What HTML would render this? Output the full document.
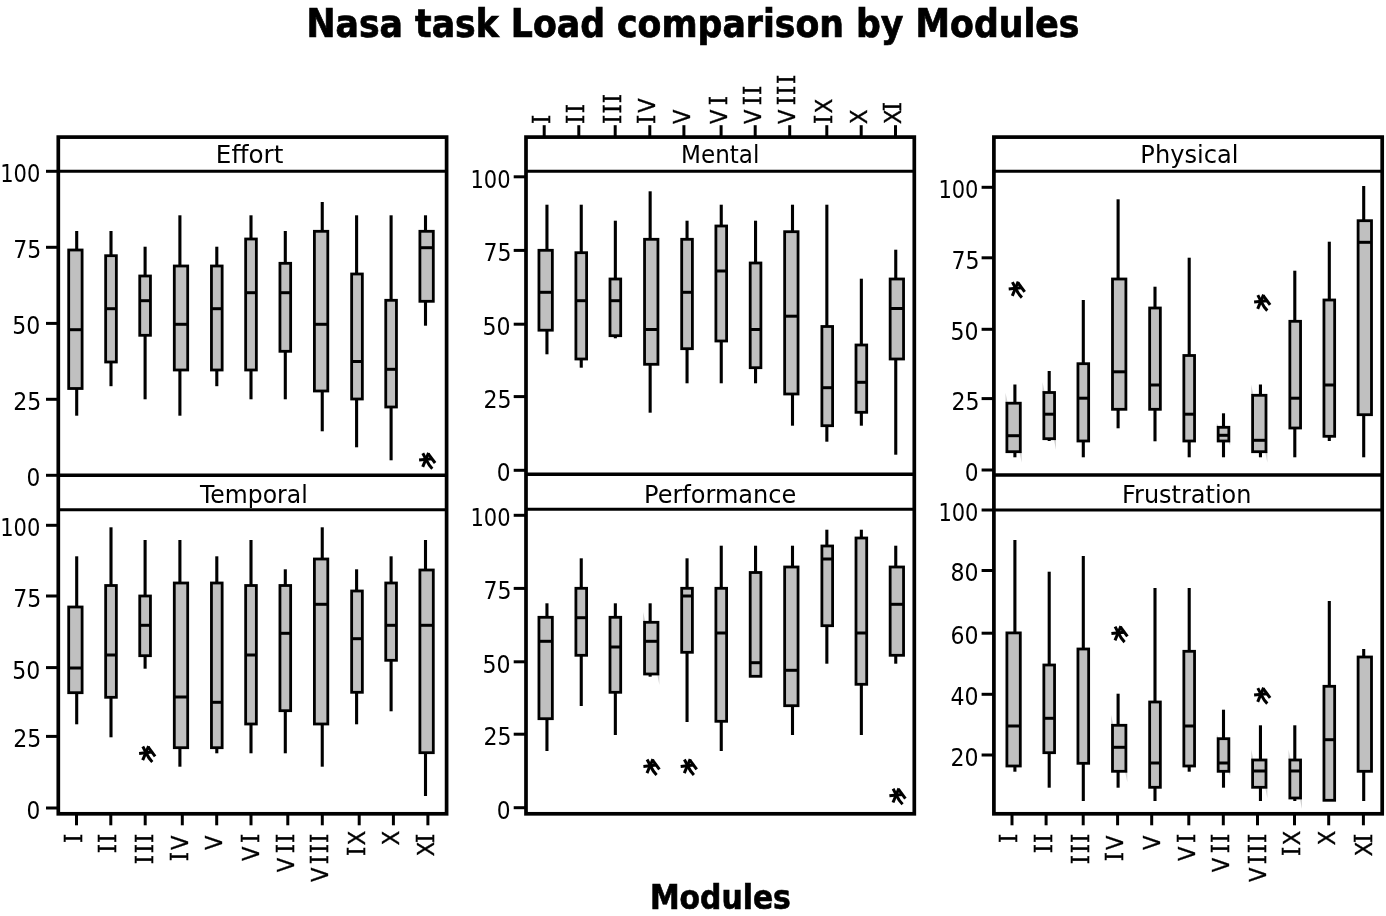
<!DOCTYPE html>
<html lang="en">
<head>
<meta charset="utf-8">
<title>Nasa task Load comparison by Modules</title>
<style>
html,body{margin:0;padding:0;background:#fff;}
body{width:1386px;height:916px;overflow:hidden;}
svg{display:block;}
svg line, svg rect, svg path{stroke:#000;shape-rendering:geometricPrecision;}
text{fill:#000;}
.ttl{font-family:"DejaVu Sans Condensed","DejaVu Sans","Liberation Sans",sans-serif;font-weight:bold;font-size:39px;stroke:#000;stroke-width:0.7px;}
.mod{font-family:"DejaVu Sans Condensed","DejaVu Sans","Liberation Sans",sans-serif;font-weight:bold;font-size:33px;stroke:#000;stroke-width:0.6px;}
.pt{font-family:"DejaVu Sans","Liberation Sans",sans-serif;font-size:24.5px;}
.yl{font-family:"DejaVu Sans Condensed","DejaVu Sans","Liberation Sans",sans-serif;font-size:25.4px;}
.xl{font-size:23.5px;}
.ri{font-family:"DejaVu Serif","Liberation Serif",serif;stroke:#000;stroke-width:0.6px;}
.rv{font-family:"DejaVu Sans Condensed","DejaVu Sans","Liberation Sans",sans-serif;stroke:#000;stroke-width:0.35px;}
</style>
</head>
<body>
<svg width="1386" height="916" viewBox="0 0 1386 916">
<rect x="0" y="0" width="1386" height="916" fill="#fff" stroke="none" style="stroke:none"/>
<text class="ttl" x="693" y="36.8" text-anchor="middle" textLength="773" lengthAdjust="spacingAndGlyphs">Nasa task Load comparison by Modules</text>
<rect x="58.3" y="137.1" width="388.30" height="676.70" fill="none" stroke-width="3.7"/>
<rect x="526.0" y="137.1" width="388.30" height="676.70" fill="none" stroke-width="3.7"/>
<rect x="993.9" y="137.1" width="388.30" height="676.70" fill="none" stroke-width="3.7"/>
<line x1="58.30" y1="171.30" x2="446.60" y2="171.30" stroke-width="3.0"/>
<text class="pt" x="215.89" y="162.6" textLength="67.42" lengthAdjust="spacingAndGlyphs">Effort</text>
<line x1="46.00" y1="171.30" x2="58.30" y2="171.30" stroke-width="3.0"/>
<text class="yl" x="0.18" y="182.2" textLength="40.10" lengthAdjust="spacingAndGlyphs">100</text>
<line x1="46.00" y1="247.30" x2="58.30" y2="247.30" stroke-width="3.0"/>
<text class="yl" x="13.23" y="258.2" textLength="28.04" lengthAdjust="spacingAndGlyphs">75</text>
<line x1="46.00" y1="323.40" x2="58.30" y2="323.40" stroke-width="3.0"/>
<text class="yl" x="12.27" y="334.3" textLength="28.04" lengthAdjust="spacingAndGlyphs">50</text>
<line x1="46.00" y1="399.30" x2="58.30" y2="399.30" stroke-width="3.0"/>
<text class="yl" x="13.23" y="410.2" textLength="28.04" lengthAdjust="spacingAndGlyphs">25</text>
<line x1="46.00" y1="475.30" x2="58.30" y2="475.30" stroke-width="3.0"/>
<text class="yl" x="26.50" y="486.2" textLength="13.80" lengthAdjust="spacingAndGlyphs">0</text>
<line x1="76.70" y1="231.00" x2="76.70" y2="250.00" stroke-width="3.1"/>
<line x1="76.70" y1="388.50" x2="76.70" y2="415.70" stroke-width="3.1"/>
<rect x="68.70" y="250.00" width="13.40" height="138.50" fill="#c0c0c0" stroke-width="2.8"/>
<line x1="68.70" y1="329.70" x2="82.10" y2="329.70" stroke-width="3.0"/>
<line x1="111.00" y1="231.00" x2="111.00" y2="255.70" stroke-width="3.1"/>
<line x1="111.00" y1="362.00" x2="111.00" y2="386.20" stroke-width="3.1"/>
<rect x="105.65" y="255.70" width="10.70" height="106.30" fill="#c0c0c0" stroke-width="2.8"/>
<line x1="105.65" y1="308.70" x2="116.35" y2="308.70" stroke-width="3.0"/>
<line x1="145.10" y1="246.70" x2="145.10" y2="276.00" stroke-width="3.1"/>
<line x1="145.10" y1="335.30" x2="145.10" y2="399.30" stroke-width="3.1"/>
<rect x="139.75" y="276.00" width="10.70" height="59.30" fill="#c0c0c0" stroke-width="2.8"/>
<line x1="139.75" y1="300.70" x2="150.45" y2="300.70" stroke-width="3.0"/>
<line x1="179.90" y1="215.30" x2="179.90" y2="266.00" stroke-width="3.1"/>
<line x1="179.90" y1="370.00" x2="179.90" y2="415.70" stroke-width="3.1"/>
<rect x="174.30" y="266.00" width="13.40" height="104.00" fill="#c0c0c0" stroke-width="2.8"/>
<line x1="174.30" y1="324.30" x2="187.70" y2="324.30" stroke-width="3.0"/>
<line x1="216.80" y1="246.70" x2="216.80" y2="266.00" stroke-width="3.1"/>
<line x1="216.80" y1="370.00" x2="216.80" y2="386.20" stroke-width="3.1"/>
<rect x="211.45" y="266.00" width="10.70" height="104.00" fill="#c0c0c0" stroke-width="2.8"/>
<line x1="211.45" y1="308.70" x2="222.15" y2="308.70" stroke-width="3.0"/>
<line x1="251.00" y1="215.30" x2="251.00" y2="239.00" stroke-width="3.1"/>
<line x1="251.00" y1="370.00" x2="251.00" y2="399.30" stroke-width="3.1"/>
<rect x="245.65" y="239.00" width="10.70" height="131.00" fill="#c0c0c0" stroke-width="2.8"/>
<line x1="245.65" y1="292.70" x2="256.35" y2="292.70" stroke-width="3.0"/>
<line x1="285.30" y1="231.00" x2="285.30" y2="263.30" stroke-width="3.1"/>
<line x1="285.30" y1="351.30" x2="285.30" y2="399.30" stroke-width="3.1"/>
<rect x="279.95" y="263.30" width="10.70" height="88.00" fill="#c0c0c0" stroke-width="2.8"/>
<line x1="279.95" y1="292.70" x2="290.65" y2="292.70" stroke-width="3.0"/>
<line x1="322.25" y1="202.00" x2="322.25" y2="231.30" stroke-width="3.1"/>
<line x1="322.25" y1="391.00" x2="322.25" y2="431.30" stroke-width="3.1"/>
<rect x="314.40" y="231.30" width="13.40" height="159.70" fill="#c0c0c0" stroke-width="2.8"/>
<line x1="314.40" y1="324.30" x2="327.80" y2="324.30" stroke-width="3.0"/>
<line x1="356.60" y1="215.30" x2="356.60" y2="274.00" stroke-width="3.1"/>
<line x1="356.60" y1="399.00" x2="356.60" y2="447.30" stroke-width="3.1"/>
<rect x="351.65" y="274.00" width="10.70" height="125.00" fill="#c0c0c0" stroke-width="2.8"/>
<line x1="351.65" y1="361.50" x2="362.35" y2="361.50" stroke-width="3.0"/>
<line x1="391.10" y1="215.30" x2="391.10" y2="300.30" stroke-width="3.1"/>
<line x1="391.10" y1="407.00" x2="391.10" y2="460.30" stroke-width="3.1"/>
<rect x="385.75" y="300.30" width="10.70" height="106.70" fill="#c0c0c0" stroke-width="2.8"/>
<line x1="385.75" y1="369.30" x2="396.45" y2="369.30" stroke-width="3.0"/>
<line x1="425.50" y1="215.30" x2="425.50" y2="231.30" stroke-width="3.1"/>
<line x1="425.50" y1="301.30" x2="425.50" y2="325.70" stroke-width="3.1"/>
<rect x="419.90" y="231.30" width="13.40" height="70.00" fill="#c0c0c0" stroke-width="2.8"/>
<line x1="419.90" y1="247.70" x2="433.30" y2="247.70" stroke-width="3.0"/>
<g transform="translate(426.7,460.4)" stroke-width="3.0" fill="none" stroke-linecap="butt"><path d="M-7.6,-0.3 L5.4,-1.6"/><path d="M-3.9,-7.2 L0,0.3 Q2,4.6 5.6,8.3"/><path d="M1.9,-7.6 L-4.0,6.5"/><path d="M1.4,-6.8 L8.4,2.6"/></g>
<line x1="58.30" y1="475.30" x2="446.60" y2="475.30" stroke-width="3.5"/>
<line x1="58.30" y1="509.70" x2="446.60" y2="509.70" stroke-width="3.0"/>
<text class="pt" x="199.96" y="503.3" textLength="107.78" lengthAdjust="spacingAndGlyphs">Temporal</text>
<line x1="46.00" y1="525.30" x2="58.30" y2="525.30" stroke-width="3.0"/>
<text class="yl" x="0.18" y="536.2" textLength="40.10" lengthAdjust="spacingAndGlyphs">100</text>
<line x1="46.00" y1="596.00" x2="58.30" y2="596.00" stroke-width="3.0"/>
<text class="yl" x="13.23" y="606.9" textLength="28.04" lengthAdjust="spacingAndGlyphs">75</text>
<line x1="46.00" y1="667.60" x2="58.30" y2="667.60" stroke-width="3.0"/>
<text class="yl" x="12.27" y="678.5" textLength="28.04" lengthAdjust="spacingAndGlyphs">50</text>
<line x1="46.00" y1="736.40" x2="58.30" y2="736.40" stroke-width="3.0"/>
<text class="yl" x="13.23" y="747.3" textLength="28.04" lengthAdjust="spacingAndGlyphs">25</text>
<line x1="46.00" y1="808.00" x2="58.30" y2="808.00" stroke-width="3.0"/>
<text class="yl" x="26.50" y="818.9" textLength="13.80" lengthAdjust="spacingAndGlyphs">0</text>
<line x1="76.70" y1="556.30" x2="76.70" y2="607.00" stroke-width="3.1"/>
<line x1="76.70" y1="692.70" x2="76.70" y2="724.30" stroke-width="3.1"/>
<rect x="68.70" y="607.00" width="13.40" height="85.70" fill="#c0c0c0" stroke-width="2.8"/>
<line x1="68.70" y1="668.00" x2="82.10" y2="668.00" stroke-width="3.0"/>
<line x1="111.00" y1="527.30" x2="111.00" y2="585.50" stroke-width="3.1"/>
<line x1="111.00" y1="697.30" x2="111.00" y2="737.30" stroke-width="3.1"/>
<rect x="105.65" y="585.50" width="10.70" height="111.80" fill="#c0c0c0" stroke-width="2.8"/>
<line x1="105.65" y1="655.00" x2="116.35" y2="655.00" stroke-width="3.0"/>
<line x1="145.10" y1="540.00" x2="145.10" y2="596.00" stroke-width="3.1"/>
<line x1="145.10" y1="655.70" x2="145.10" y2="668.70" stroke-width="3.1"/>
<rect x="139.75" y="596.00" width="10.70" height="59.70" fill="#c0c0c0" stroke-width="2.8"/>
<line x1="139.75" y1="625.30" x2="150.45" y2="625.30" stroke-width="3.0"/>
<line x1="179.90" y1="540.00" x2="179.90" y2="583.00" stroke-width="3.1"/>
<line x1="179.90" y1="747.70" x2="179.90" y2="766.70" stroke-width="3.1"/>
<rect x="174.30" y="583.00" width="13.40" height="164.70" fill="#c0c0c0" stroke-width="2.8"/>
<line x1="174.30" y1="697.00" x2="187.70" y2="697.00" stroke-width="3.0"/>
<line x1="216.80" y1="556.30" x2="216.80" y2="583.00" stroke-width="3.1"/>
<line x1="216.80" y1="747.70" x2="216.80" y2="753.30" stroke-width="3.1"/>
<rect x="211.45" y="583.00" width="10.70" height="164.70" fill="#c0c0c0" stroke-width="2.8"/>
<line x1="211.45" y1="702.30" x2="222.15" y2="702.30" stroke-width="3.0"/>
<line x1="251.00" y1="540.00" x2="251.00" y2="585.50" stroke-width="3.1"/>
<line x1="251.00" y1="724.00" x2="251.00" y2="753.30" stroke-width="3.1"/>
<rect x="245.65" y="585.50" width="10.70" height="138.50" fill="#c0c0c0" stroke-width="2.8"/>
<line x1="245.65" y1="655.00" x2="256.35" y2="655.00" stroke-width="3.0"/>
<line x1="285.30" y1="569.30" x2="285.30" y2="585.50" stroke-width="3.1"/>
<line x1="285.30" y1="710.70" x2="285.30" y2="753.30" stroke-width="3.1"/>
<rect x="279.95" y="585.50" width="10.70" height="125.20" fill="#c0c0c0" stroke-width="2.8"/>
<line x1="279.95" y1="633.30" x2="290.65" y2="633.30" stroke-width="3.0"/>
<line x1="322.25" y1="527.30" x2="322.25" y2="559.00" stroke-width="3.1"/>
<line x1="322.25" y1="724.00" x2="322.25" y2="766.70" stroke-width="3.1"/>
<rect x="314.40" y="559.00" width="13.40" height="165.00" fill="#c0c0c0" stroke-width="2.8"/>
<line x1="314.40" y1="604.30" x2="327.80" y2="604.30" stroke-width="3.0"/>
<line x1="356.60" y1="569.30" x2="356.60" y2="591.00" stroke-width="3.1"/>
<line x1="356.60" y1="692.30" x2="356.60" y2="724.30" stroke-width="3.1"/>
<rect x="351.65" y="591.00" width="10.70" height="101.30" fill="#c0c0c0" stroke-width="2.8"/>
<line x1="351.65" y1="638.70" x2="362.35" y2="638.70" stroke-width="3.0"/>
<line x1="391.10" y1="556.30" x2="391.10" y2="583.00" stroke-width="3.1"/>
<line x1="391.10" y1="660.30" x2="391.10" y2="711.30" stroke-width="3.1"/>
<rect x="385.75" y="583.00" width="10.70" height="77.30" fill="#c0c0c0" stroke-width="2.8"/>
<line x1="385.75" y1="625.30" x2="396.45" y2="625.30" stroke-width="3.0"/>
<line x1="425.50" y1="540.00" x2="425.50" y2="570.00" stroke-width="3.1"/>
<line x1="425.50" y1="752.70" x2="425.50" y2="796.00" stroke-width="3.1"/>
<rect x="419.90" y="570.00" width="13.40" height="182.70" fill="#c0c0c0" stroke-width="2.8"/>
<line x1="419.90" y1="625.30" x2="433.30" y2="625.30" stroke-width="3.0"/>
<g transform="translate(146.7,753.7)" stroke-width="3.0" fill="none" stroke-linecap="butt"><path d="M-7.6,-0.3 L5.4,-1.6"/><path d="M-3.9,-7.2 L0,0.3 Q2,4.6 5.6,8.3"/><path d="M1.9,-7.6 L-4.0,6.5"/><path d="M1.4,-6.8 L8.4,2.6"/></g>
<line x1="526.00" y1="171.20" x2="914.30" y2="171.20" stroke-width="3.0"/>
<text class="pt" x="681.12" y="162.6" textLength="78.29" lengthAdjust="spacingAndGlyphs">Mental</text>
<line x1="513.70" y1="176.80" x2="526.00" y2="176.80" stroke-width="3.0"/>
<text class="yl" x="470.48" y="187.7" textLength="40.10" lengthAdjust="spacingAndGlyphs">100</text>
<line x1="513.70" y1="250.40" x2="526.00" y2="250.40" stroke-width="3.0"/>
<text class="yl" x="483.53" y="261.3" textLength="28.04" lengthAdjust="spacingAndGlyphs">75</text>
<line x1="513.70" y1="324.20" x2="526.00" y2="324.20" stroke-width="3.0"/>
<text class="yl" x="482.57" y="335.1" textLength="28.04" lengthAdjust="spacingAndGlyphs">50</text>
<line x1="513.70" y1="396.60" x2="526.00" y2="396.60" stroke-width="3.0"/>
<text class="yl" x="483.53" y="407.5" textLength="28.04" lengthAdjust="spacingAndGlyphs">25</text>
<line x1="513.70" y1="470.30" x2="526.00" y2="470.30" stroke-width="3.0"/>
<text class="yl" x="496.80" y="481.2" textLength="13.80" lengthAdjust="spacingAndGlyphs">0</text>
<line x1="546.95" y1="204.70" x2="546.95" y2="250.30" stroke-width="3.1"/>
<line x1="546.95" y1="330.20" x2="546.95" y2="354.30" stroke-width="3.1"/>
<rect x="538.95" y="250.30" width="13.40" height="79.90" fill="#c0c0c0" stroke-width="2.8"/>
<line x1="538.95" y1="292.30" x2="552.35" y2="292.30" stroke-width="3.0"/>
<line x1="581.25" y1="204.70" x2="581.25" y2="252.70" stroke-width="3.1"/>
<line x1="581.25" y1="359.00" x2="581.25" y2="367.70" stroke-width="3.1"/>
<rect x="575.90" y="252.70" width="10.70" height="106.30" fill="#c0c0c0" stroke-width="2.8"/>
<line x1="575.90" y1="300.70" x2="586.60" y2="300.70" stroke-width="3.0"/>
<line x1="615.35" y1="220.70" x2="615.35" y2="279.00" stroke-width="3.1"/>
<line x1="615.35" y1="335.70" x2="615.35" y2="338.30" stroke-width="3.1"/>
<rect x="610.00" y="279.00" width="10.70" height="56.70" fill="#c0c0c0" stroke-width="2.8"/>
<line x1="610.00" y1="300.70" x2="620.70" y2="300.70" stroke-width="3.0"/>
<line x1="650.15" y1="191.30" x2="650.15" y2="239.30" stroke-width="3.1"/>
<line x1="650.15" y1="364.30" x2="650.15" y2="412.70" stroke-width="3.1"/>
<rect x="644.55" y="239.30" width="13.40" height="125.00" fill="#c0c0c0" stroke-width="2.8"/>
<line x1="644.55" y1="329.50" x2="657.95" y2="329.50" stroke-width="3.0"/>
<line x1="687.05" y1="220.70" x2="687.05" y2="239.30" stroke-width="3.1"/>
<line x1="687.05" y1="348.70" x2="687.05" y2="383.30" stroke-width="3.1"/>
<rect x="681.70" y="239.30" width="10.70" height="109.40" fill="#c0c0c0" stroke-width="2.8"/>
<line x1="681.70" y1="292.30" x2="692.40" y2="292.30" stroke-width="3.0"/>
<line x1="721.25" y1="204.70" x2="721.25" y2="226.00" stroke-width="3.1"/>
<line x1="721.25" y1="341.00" x2="721.25" y2="383.30" stroke-width="3.1"/>
<rect x="715.90" y="226.00" width="10.70" height="115.00" fill="#c0c0c0" stroke-width="2.8"/>
<line x1="715.90" y1="271.00" x2="726.60" y2="271.00" stroke-width="3.0"/>
<line x1="755.55" y1="220.70" x2="755.55" y2="263.00" stroke-width="3.1"/>
<line x1="755.55" y1="367.70" x2="755.55" y2="383.30" stroke-width="3.1"/>
<rect x="750.20" y="263.00" width="10.70" height="104.70" fill="#c0c0c0" stroke-width="2.8"/>
<line x1="750.20" y1="329.50" x2="760.90" y2="329.50" stroke-width="3.0"/>
<line x1="792.50" y1="204.70" x2="792.50" y2="231.70" stroke-width="3.1"/>
<line x1="792.50" y1="394.00" x2="792.50" y2="425.70" stroke-width="3.1"/>
<rect x="784.65" y="231.70" width="13.40" height="162.30" fill="#c0c0c0" stroke-width="2.8"/>
<line x1="784.65" y1="316.20" x2="798.05" y2="316.20" stroke-width="3.0"/>
<line x1="826.85" y1="204.70" x2="826.85" y2="326.50" stroke-width="3.1"/>
<line x1="826.85" y1="425.70" x2="826.85" y2="441.70" stroke-width="3.1"/>
<rect x="821.90" y="326.50" width="10.70" height="99.20" fill="#c0c0c0" stroke-width="2.8"/>
<line x1="821.90" y1="387.70" x2="832.60" y2="387.70" stroke-width="3.0"/>
<line x1="861.35" y1="278.70" x2="861.35" y2="345.00" stroke-width="3.1"/>
<line x1="861.35" y1="412.30" x2="861.35" y2="425.70" stroke-width="3.1"/>
<rect x="856.00" y="345.00" width="10.70" height="67.30" fill="#c0c0c0" stroke-width="2.8"/>
<line x1="856.00" y1="382.30" x2="866.70" y2="382.30" stroke-width="3.0"/>
<line x1="895.75" y1="249.70" x2="895.75" y2="279.00" stroke-width="3.1"/>
<line x1="895.75" y1="359.00" x2="895.75" y2="454.70" stroke-width="3.1"/>
<rect x="890.15" y="279.00" width="13.40" height="80.00" fill="#c0c0c0" stroke-width="2.8"/>
<line x1="890.15" y1="308.50" x2="903.55" y2="308.50" stroke-width="3.0"/>
<line x1="526.00" y1="474.30" x2="914.30" y2="474.30" stroke-width="3.5"/>
<line x1="526.00" y1="509.30" x2="914.30" y2="509.30" stroke-width="3.0"/>
<text class="pt" x="644.04" y="503.3" textLength="152.31" lengthAdjust="spacingAndGlyphs">Performance</text>
<line x1="513.70" y1="515.30" x2="526.00" y2="515.30" stroke-width="3.0"/>
<text class="yl" x="470.48" y="526.2" textLength="40.10" lengthAdjust="spacingAndGlyphs">100</text>
<line x1="513.70" y1="588.40" x2="526.00" y2="588.40" stroke-width="3.0"/>
<text class="yl" x="483.53" y="599.3" textLength="28.04" lengthAdjust="spacingAndGlyphs">75</text>
<line x1="513.70" y1="661.80" x2="526.00" y2="661.80" stroke-width="3.0"/>
<text class="yl" x="482.57" y="672.7" textLength="28.04" lengthAdjust="spacingAndGlyphs">50</text>
<line x1="513.70" y1="734.20" x2="526.00" y2="734.20" stroke-width="3.0"/>
<text class="yl" x="483.53" y="745.1" textLength="28.04" lengthAdjust="spacingAndGlyphs">25</text>
<line x1="513.70" y1="807.70" x2="526.00" y2="807.70" stroke-width="3.0"/>
<text class="yl" x="496.80" y="818.6" textLength="13.80" lengthAdjust="spacingAndGlyphs">0</text>
<line x1="546.95" y1="603.30" x2="546.95" y2="617.30" stroke-width="3.1"/>
<line x1="546.95" y1="718.70" x2="546.95" y2="751.00" stroke-width="3.1"/>
<rect x="538.95" y="617.30" width="13.40" height="101.40" fill="#c0c0c0" stroke-width="2.8"/>
<line x1="538.95" y1="641.30" x2="552.35" y2="641.30" stroke-width="3.0"/>
<line x1="581.25" y1="558.30" x2="581.25" y2="588.30" stroke-width="3.1"/>
<line x1="581.25" y1="655.30" x2="581.25" y2="706.00" stroke-width="3.1"/>
<rect x="575.90" y="588.30" width="10.70" height="67.00" fill="#c0c0c0" stroke-width="2.8"/>
<line x1="575.90" y1="617.70" x2="586.60" y2="617.70" stroke-width="3.0"/>
<line x1="615.35" y1="603.30" x2="615.35" y2="617.30" stroke-width="3.1"/>
<line x1="615.35" y1="692.30" x2="615.35" y2="735.00" stroke-width="3.1"/>
<rect x="610.00" y="617.30" width="10.70" height="75.00" fill="#c0c0c0" stroke-width="2.8"/>
<line x1="610.00" y1="647.00" x2="620.70" y2="647.00" stroke-width="3.0"/>
<polygon points="643.1,611.8 643.1,622.3 645.4,622.3" fill="#d2d2d2" style="stroke:none"/>
<polygon points="659.4,685.0 659.4,674.0 657.1,674.0" fill="#d2d2d2" style="stroke:none"/>
<line x1="650.15" y1="603.30" x2="650.15" y2="622.30" stroke-width="3.1"/>
<line x1="650.15" y1="674.00" x2="650.15" y2="676.70" stroke-width="3.1"/>
<rect x="644.55" y="622.30" width="13.40" height="51.70" fill="#c0c0c0" stroke-width="2.8"/>
<line x1="644.55" y1="641.30" x2="657.95" y2="641.30" stroke-width="3.0"/>
<line x1="687.05" y1="558.30" x2="687.05" y2="588.30" stroke-width="3.1"/>
<line x1="687.05" y1="652.30" x2="687.05" y2="722.00" stroke-width="3.1"/>
<rect x="681.70" y="588.30" width="10.70" height="64.00" fill="#c0c0c0" stroke-width="2.8"/>
<line x1="681.70" y1="596.00" x2="692.40" y2="596.00" stroke-width="3.0"/>
<line x1="721.25" y1="545.70" x2="721.25" y2="588.30" stroke-width="3.1"/>
<line x1="721.25" y1="721.30" x2="721.25" y2="751.00" stroke-width="3.1"/>
<rect x="715.90" y="588.30" width="10.70" height="133.00" fill="#c0c0c0" stroke-width="2.8"/>
<line x1="715.90" y1="633.00" x2="726.60" y2="633.00" stroke-width="3.0"/>
<line x1="755.55" y1="545.70" x2="755.55" y2="572.50" stroke-width="3.1"/>
<rect x="750.20" y="572.50" width="10.70" height="103.80" fill="#c0c0c0" stroke-width="2.8"/>
<line x1="750.20" y1="662.70" x2="760.90" y2="662.70" stroke-width="3.0"/>
<line x1="792.50" y1="545.70" x2="792.50" y2="567.00" stroke-width="3.1"/>
<line x1="792.50" y1="705.70" x2="792.50" y2="735.00" stroke-width="3.1"/>
<rect x="784.65" y="567.00" width="13.40" height="138.70" fill="#c0c0c0" stroke-width="2.8"/>
<line x1="784.65" y1="670.30" x2="798.05" y2="670.30" stroke-width="3.0"/>
<line x1="826.85" y1="529.70" x2="826.85" y2="546.00" stroke-width="3.1"/>
<line x1="826.85" y1="625.70" x2="826.85" y2="663.70" stroke-width="3.1"/>
<rect x="821.90" y="546.00" width="10.70" height="79.70" fill="#c0c0c0" stroke-width="2.8"/>
<line x1="821.90" y1="559.00" x2="832.60" y2="559.00" stroke-width="3.0"/>
<line x1="861.35" y1="529.70" x2="861.35" y2="538.00" stroke-width="3.1"/>
<line x1="861.35" y1="684.30" x2="861.35" y2="735.00" stroke-width="3.1"/>
<rect x="856.00" y="538.00" width="10.70" height="146.30" fill="#c0c0c0" stroke-width="2.8"/>
<line x1="856.00" y1="633.00" x2="866.70" y2="633.00" stroke-width="3.0"/>
<line x1="895.75" y1="545.70" x2="895.75" y2="567.00" stroke-width="3.1"/>
<line x1="895.75" y1="655.30" x2="895.75" y2="663.70" stroke-width="3.1"/>
<rect x="890.15" y="567.00" width="13.40" height="88.30" fill="#c0c0c0" stroke-width="2.8"/>
<line x1="890.15" y1="604.30" x2="903.55" y2="604.30" stroke-width="3.0"/>
<g transform="translate(651.0,766.7)" stroke-width="3.0" fill="none" stroke-linecap="butt"><path d="M-7.6,-0.3 L5.4,-1.6"/><path d="M-3.9,-7.2 L0,0.3 Q2,4.6 5.6,8.3"/><path d="M1.9,-7.6 L-4.0,6.5"/><path d="M1.4,-6.8 L8.4,2.6"/></g>
<g transform="translate(688.3,766.7)" stroke-width="3.0" fill="none" stroke-linecap="butt"><path d="M-7.6,-0.3 L5.4,-1.6"/><path d="M-3.9,-7.2 L0,0.3 Q2,4.6 5.6,8.3"/><path d="M1.9,-7.6 L-4.0,6.5"/><path d="M1.4,-6.8 L8.4,2.6"/></g>
<g transform="translate(897.0,796.0)" stroke-width="3.0" fill="none" stroke-linecap="butt"><path d="M-7.6,-0.3 L5.4,-1.6"/><path d="M-3.9,-7.2 L0,0.3 Q2,4.6 5.6,8.3"/><path d="M1.9,-7.6 L-4.0,6.5"/><path d="M1.4,-6.8 L8.4,2.6"/></g>
<line x1="993.90" y1="171.30" x2="1382.20" y2="171.30" stroke-width="3.0"/>
<text class="pt" x="1140.33" y="162.6" textLength="98.14" lengthAdjust="spacingAndGlyphs">Physical</text>
<line x1="981.60" y1="187.30" x2="993.90" y2="187.30" stroke-width="3.0"/>
<text class="yl" x="938.38" y="198.2" textLength="40.10" lengthAdjust="spacingAndGlyphs">100</text>
<line x1="981.60" y1="257.80" x2="993.90" y2="257.80" stroke-width="3.0"/>
<text class="yl" x="951.43" y="268.7" textLength="28.04" lengthAdjust="spacingAndGlyphs">75</text>
<line x1="981.60" y1="329.30" x2="993.90" y2="329.30" stroke-width="3.0"/>
<text class="yl" x="950.47" y="340.2" textLength="28.04" lengthAdjust="spacingAndGlyphs">50</text>
<line x1="981.60" y1="398.60" x2="993.90" y2="398.60" stroke-width="3.0"/>
<text class="yl" x="951.43" y="409.5" textLength="28.04" lengthAdjust="spacingAndGlyphs">25</text>
<line x1="981.60" y1="470.00" x2="993.90" y2="470.00" stroke-width="3.0"/>
<text class="yl" x="964.70" y="480.9" textLength="13.80" lengthAdjust="spacingAndGlyphs">0</text>
<polygon points="1005.5,392.7 1005.5,403.2 1007.8,403.2" fill="#d2d2d2" style="stroke:none"/>
<polygon points="1021.7,462.7 1021.7,451.7 1019.4,451.7" fill="#d2d2d2" style="stroke:none"/>
<line x1="1014.90" y1="384.50" x2="1014.90" y2="403.20" stroke-width="3.1"/>
<line x1="1014.90" y1="451.70" x2="1014.90" y2="457.30" stroke-width="3.1"/>
<rect x="1006.90" y="403.20" width="13.40" height="48.50" fill="#c0c0c0" stroke-width="2.8"/>
<line x1="1006.90" y1="435.70" x2="1020.30" y2="435.70" stroke-width="3.0"/>
<polygon points="1042.5,382.0 1042.5,392.5 1044.8,392.5" fill="#d2d2d2" style="stroke:none"/>
<polygon points="1056.0,449.7 1056.0,438.7 1053.7,438.7" fill="#d2d2d2" style="stroke:none"/>
<line x1="1049.20" y1="371.00" x2="1049.20" y2="392.50" stroke-width="3.1"/>
<line x1="1049.20" y1="438.70" x2="1049.20" y2="441.00" stroke-width="3.1"/>
<rect x="1043.85" y="392.50" width="10.70" height="46.20" fill="#c0c0c0" stroke-width="2.8"/>
<line x1="1043.85" y1="414.20" x2="1054.55" y2="414.20" stroke-width="3.0"/>
<line x1="1083.30" y1="300.00" x2="1083.30" y2="363.70" stroke-width="3.1"/>
<line x1="1083.30" y1="441.00" x2="1083.30" y2="457.30" stroke-width="3.1"/>
<rect x="1077.95" y="363.70" width="10.70" height="77.30" fill="#c0c0c0" stroke-width="2.8"/>
<line x1="1077.95" y1="398.20" x2="1088.65" y2="398.20" stroke-width="3.0"/>
<line x1="1118.10" y1="199.30" x2="1118.10" y2="279.00" stroke-width="3.1"/>
<line x1="1118.10" y1="409.30" x2="1118.10" y2="428.30" stroke-width="3.1"/>
<rect x="1112.50" y="279.00" width="13.40" height="130.30" fill="#c0c0c0" stroke-width="2.8"/>
<line x1="1112.50" y1="371.80" x2="1125.90" y2="371.80" stroke-width="3.0"/>
<line x1="1155.00" y1="286.70" x2="1155.00" y2="308.00" stroke-width="3.1"/>
<line x1="1155.00" y1="409.30" x2="1155.00" y2="441.30" stroke-width="3.1"/>
<rect x="1149.65" y="308.00" width="10.70" height="101.30" fill="#c0c0c0" stroke-width="2.8"/>
<line x1="1149.65" y1="385.00" x2="1160.35" y2="385.00" stroke-width="3.0"/>
<line x1="1189.20" y1="257.70" x2="1189.20" y2="355.50" stroke-width="3.1"/>
<line x1="1189.20" y1="441.00" x2="1189.20" y2="457.30" stroke-width="3.1"/>
<rect x="1183.85" y="355.50" width="10.70" height="85.50" fill="#c0c0c0" stroke-width="2.8"/>
<line x1="1183.85" y1="414.20" x2="1194.55" y2="414.20" stroke-width="3.0"/>
<polygon points="1216.8,423.3 1216.8,427.3 1219.0,427.3" fill="#d2d2d2" style="stroke:none"/>
<polygon points="1230.2,445.5 1230.2,441.0 1228.0,441.0" fill="#d2d2d2" style="stroke:none"/>
<line x1="1223.50" y1="413.30" x2="1223.50" y2="427.30" stroke-width="3.1"/>
<line x1="1223.50" y1="441.00" x2="1223.50" y2="457.30" stroke-width="3.1"/>
<rect x="1218.15" y="427.30" width="10.70" height="13.70" fill="#c0c0c0" stroke-width="2.8"/>
<line x1="1218.15" y1="435.30" x2="1228.85" y2="435.30" stroke-width="3.0"/>
<polygon points="1251.2,384.8 1251.2,395.3 1253.5,395.3" fill="#d2d2d2" style="stroke:none"/>
<polygon points="1267.4,462.7 1267.4,451.7 1265.1,451.7" fill="#d2d2d2" style="stroke:none"/>
<line x1="1260.45" y1="384.50" x2="1260.45" y2="395.30" stroke-width="3.1"/>
<line x1="1260.45" y1="451.70" x2="1260.45" y2="457.30" stroke-width="3.1"/>
<rect x="1252.60" y="395.30" width="13.40" height="56.40" fill="#c0c0c0" stroke-width="2.8"/>
<line x1="1252.60" y1="440.30" x2="1266.00" y2="440.30" stroke-width="3.0"/>
<line x1="1294.80" y1="270.70" x2="1294.80" y2="321.30" stroke-width="3.1"/>
<line x1="1294.80" y1="428.00" x2="1294.80" y2="457.30" stroke-width="3.1"/>
<rect x="1289.85" y="321.30" width="10.70" height="106.70" fill="#c0c0c0" stroke-width="2.8"/>
<line x1="1289.85" y1="398.20" x2="1300.55" y2="398.20" stroke-width="3.0"/>
<line x1="1329.30" y1="241.70" x2="1329.30" y2="300.00" stroke-width="3.1"/>
<line x1="1329.30" y1="436.30" x2="1329.30" y2="441.00" stroke-width="3.1"/>
<rect x="1323.95" y="300.00" width="10.70" height="136.30" fill="#c0c0c0" stroke-width="2.8"/>
<line x1="1323.95" y1="385.00" x2="1334.65" y2="385.00" stroke-width="3.0"/>
<line x1="1363.70" y1="186.00" x2="1363.70" y2="220.70" stroke-width="3.1"/>
<line x1="1363.70" y1="414.70" x2="1363.70" y2="457.30" stroke-width="3.1"/>
<rect x="1358.10" y="220.70" width="13.40" height="194.00" fill="#c0c0c0" stroke-width="2.8"/>
<line x1="1358.10" y1="242.30" x2="1371.50" y2="242.30" stroke-width="3.0"/>
<g transform="translate(1016.3,289.3)" stroke-width="3.0" fill="none" stroke-linecap="butt"><path d="M-7.6,-0.3 L5.4,-1.6"/><path d="M-3.9,-7.2 L0,0.3 Q2,4.6 5.6,8.3"/><path d="M1.9,-7.6 L-4.0,6.5"/><path d="M1.4,-6.8 L8.4,2.6"/></g>
<g transform="translate(1261.7,302.3)" stroke-width="3.0" fill="none" stroke-linecap="butt"><path d="M-7.6,-0.3 L5.4,-1.6"/><path d="M-3.9,-7.2 L0,0.3 Q2,4.6 5.6,8.3"/><path d="M1.9,-7.6 L-4.0,6.5"/><path d="M1.4,-6.8 L8.4,2.6"/></g>
<line x1="993.90" y1="475.00" x2="1382.20" y2="475.00" stroke-width="3.5"/>
<line x1="993.90" y1="510.00" x2="1382.20" y2="510.00" stroke-width="3.0"/>
<text class="pt" x="1122.04" y="503.3" textLength="129.45" lengthAdjust="spacingAndGlyphs">Frustration</text>
<line x1="981.60" y1="510.00" x2="993.90" y2="510.00" stroke-width="3.0"/>
<text class="yl" x="938.38" y="520.9" textLength="40.10" lengthAdjust="spacingAndGlyphs">100</text>
<line x1="981.60" y1="570.50" x2="993.90" y2="570.50" stroke-width="3.0"/>
<text class="yl" x="950.47" y="581.4" textLength="28.04" lengthAdjust="spacingAndGlyphs">80</text>
<line x1="981.60" y1="633.20" x2="993.90" y2="633.20" stroke-width="3.0"/>
<text class="yl" x="950.47" y="644.1" textLength="28.04" lengthAdjust="spacingAndGlyphs">60</text>
<line x1="981.60" y1="694.30" x2="993.90" y2="694.30" stroke-width="3.0"/>
<text class="yl" x="950.47" y="705.2" textLength="28.04" lengthAdjust="spacingAndGlyphs">40</text>
<line x1="981.60" y1="755.00" x2="993.90" y2="755.00" stroke-width="3.0"/>
<text class="yl" x="950.47" y="765.9" textLength="28.04" lengthAdjust="spacingAndGlyphs">20</text>
<line x1="1014.90" y1="540.00" x2="1014.90" y2="632.90" stroke-width="3.1"/>
<line x1="1014.90" y1="766.00" x2="1014.90" y2="771.70" stroke-width="3.1"/>
<rect x="1006.90" y="632.90" width="13.40" height="133.10" fill="#c0c0c0" stroke-width="2.8"/>
<line x1="1006.90" y1="726.00" x2="1020.30" y2="726.00" stroke-width="3.0"/>
<line x1="1049.20" y1="571.70" x2="1049.20" y2="665.00" stroke-width="3.1"/>
<line x1="1049.20" y1="752.70" x2="1049.20" y2="787.70" stroke-width="3.1"/>
<rect x="1043.85" y="665.00" width="10.70" height="87.70" fill="#c0c0c0" stroke-width="2.8"/>
<line x1="1043.85" y1="718.30" x2="1054.55" y2="718.30" stroke-width="3.0"/>
<line x1="1083.30" y1="556.00" x2="1083.30" y2="649.00" stroke-width="3.1"/>
<line x1="1083.30" y1="763.30" x2="1083.30" y2="801.00" stroke-width="3.1"/>
<rect x="1077.95" y="649.00" width="10.70" height="114.30" fill="#c0c0c0" stroke-width="2.8"/>
<polygon points="1111.1,714.8 1111.1,725.3 1113.4,725.3" fill="#d2d2d2" style="stroke:none"/>
<polygon points="1127.3,782.3 1127.3,771.3 1125.0,771.3" fill="#d2d2d2" style="stroke:none"/>
<line x1="1118.10" y1="693.70" x2="1118.10" y2="725.30" stroke-width="3.1"/>
<line x1="1118.10" y1="771.30" x2="1118.10" y2="787.70" stroke-width="3.1"/>
<rect x="1112.50" y="725.30" width="13.40" height="46.00" fill="#c0c0c0" stroke-width="2.8"/>
<line x1="1112.50" y1="747.30" x2="1125.90" y2="747.30" stroke-width="3.0"/>
<line x1="1155.00" y1="588.00" x2="1155.00" y2="702.00" stroke-width="3.1"/>
<line x1="1155.00" y1="787.30" x2="1155.00" y2="801.00" stroke-width="3.1"/>
<rect x="1149.65" y="702.00" width="10.70" height="85.30" fill="#c0c0c0" stroke-width="2.8"/>
<line x1="1149.65" y1="763.00" x2="1160.35" y2="763.00" stroke-width="3.0"/>
<line x1="1189.20" y1="588.00" x2="1189.20" y2="651.30" stroke-width="3.1"/>
<line x1="1189.20" y1="766.00" x2="1189.20" y2="771.70" stroke-width="3.1"/>
<rect x="1183.85" y="651.30" width="10.70" height="114.70" fill="#c0c0c0" stroke-width="2.8"/>
<line x1="1183.85" y1="726.00" x2="1194.55" y2="726.00" stroke-width="3.0"/>
<polygon points="1216.8,734.7 1216.8,738.7 1219.0,738.7" fill="#d2d2d2" style="stroke:none"/>
<polygon points="1230.2,775.8 1230.2,771.3 1228.0,771.3" fill="#d2d2d2" style="stroke:none"/>
<line x1="1223.50" y1="709.70" x2="1223.50" y2="738.70" stroke-width="3.1"/>
<line x1="1223.50" y1="771.30" x2="1223.50" y2="787.70" stroke-width="3.1"/>
<rect x="1218.15" y="738.70" width="10.70" height="32.60" fill="#c0c0c0" stroke-width="2.8"/>
<line x1="1218.15" y1="763.00" x2="1228.85" y2="763.00" stroke-width="3.0"/>
<polygon points="1251.2,749.5 1251.2,760.0 1253.5,760.0" fill="#d2d2d2" style="stroke:none"/>
<polygon points="1267.4,798.3 1267.4,787.3 1265.1,787.3" fill="#d2d2d2" style="stroke:none"/>
<line x1="1260.45" y1="725.30" x2="1260.45" y2="760.00" stroke-width="3.1"/>
<line x1="1260.45" y1="787.30" x2="1260.45" y2="801.00" stroke-width="3.1"/>
<rect x="1252.60" y="760.00" width="13.40" height="27.30" fill="#c0c0c0" stroke-width="2.8"/>
<line x1="1252.60" y1="771.00" x2="1266.00" y2="771.00" stroke-width="3.0"/>
<polygon points="1288.5,749.5 1288.5,760.0 1290.8,760.0" fill="#d2d2d2" style="stroke:none"/>
<polygon points="1302.0,809.0 1302.0,798.0 1299.7,798.0" fill="#d2d2d2" style="stroke:none"/>
<line x1="1294.80" y1="725.30" x2="1294.80" y2="760.00" stroke-width="3.1"/>
<line x1="1294.80" y1="798.00" x2="1294.80" y2="801.00" stroke-width="3.1"/>
<rect x="1289.85" y="760.00" width="10.70" height="38.00" fill="#c0c0c0" stroke-width="2.8"/>
<line x1="1289.85" y1="771.00" x2="1300.55" y2="771.00" stroke-width="3.0"/>
<line x1="1329.30" y1="601.00" x2="1329.30" y2="686.30" stroke-width="3.1"/>
<rect x="1323.95" y="686.30" width="10.70" height="114.00" fill="#c0c0c0" stroke-width="2.8"/>
<line x1="1323.95" y1="739.70" x2="1334.65" y2="739.70" stroke-width="3.0"/>
<line x1="1363.70" y1="649.00" x2="1363.70" y2="657.00" stroke-width="3.1"/>
<line x1="1363.70" y1="771.30" x2="1363.70" y2="801.00" stroke-width="3.1"/>
<rect x="1358.10" y="657.00" width="13.40" height="114.30" fill="#c0c0c0" stroke-width="2.8"/>
<g transform="translate(1119.0,633.8)" stroke-width="3.0" fill="none" stroke-linecap="butt"><path d="M-7.6,-0.3 L5.4,-1.6"/><path d="M-3.9,-7.2 L0,0.3 Q2,4.6 5.6,8.3"/><path d="M1.9,-7.6 L-4.0,6.5"/><path d="M1.4,-6.8 L8.4,2.6"/></g>
<g transform="translate(1261.7,695.3)" stroke-width="3.0" fill="none" stroke-linecap="butt"><path d="M-7.6,-0.3 L5.4,-1.6"/><path d="M-3.9,-7.2 L0,0.3 Q2,4.6 5.6,8.3"/><path d="M1.9,-7.6 L-4.0,6.5"/><path d="M1.4,-6.8 L8.4,2.6"/></g>
<line x1="76.50" y1="813.80" x2="76.50" y2="825.30" stroke-width="3.0"/>
<text class="xl" transform="translate(82.0,835.0) rotate(-90)"><tspan class="ri" x="-7.98">I</tspan></text>
<line x1="110.80" y1="813.80" x2="110.80" y2="825.30" stroke-width="3.0"/>
<text class="xl" transform="translate(116.4,835.0) rotate(-90)"><tspan class="ri" x="-18.13">I</tspan><tspan class="ri" x="-7.98">I</tspan></text>
<line x1="145.20" y1="813.80" x2="145.20" y2="825.30" stroke-width="3.0"/>
<text class="xl" transform="translate(153.2,835.0) rotate(-90)"><tspan class="ri" x="-29.18">I</tspan><tspan class="ri" x="-18.13">I</tspan><tspan class="ri" x="-7.98">I</tspan></text>
<line x1="182.30" y1="813.80" x2="182.30" y2="825.30" stroke-width="3.0"/>
<text class="xl" transform="translate(187.9,835.0) rotate(-90)"><tspan class="ri" x="-26.18">I</tspan><tspan class="rv" x="-15.04">V</tspan></text>
<line x1="216.70" y1="813.80" x2="216.70" y2="825.30" stroke-width="3.0"/>
<text class="xl" transform="translate(221.7,835.0) rotate(-90)"><tspan class="rv" x="-15.04">V</tspan></text>
<line x1="251.00" y1="813.80" x2="251.00" y2="825.30" stroke-width="3.0"/>
<text class="xl" transform="translate(259.1,835.0) rotate(-90)"><tspan class="rv" x="-26.09">V</tspan><tspan class="ri" x="-7.98">I</tspan></text>
<line x1="287.80" y1="813.80" x2="287.80" y2="825.30" stroke-width="3.0"/>
<text class="xl" transform="translate(293.5,835.0) rotate(-90)"><tspan class="rv" x="-37.19">V</tspan><tspan class="ri" x="-18.13">I</tspan><tspan class="ri" x="-7.98">I</tspan></text>
<line x1="322.30" y1="813.80" x2="322.30" y2="825.30" stroke-width="3.0"/>
<text class="xl" transform="translate(328.0,835.0) rotate(-90)"><tspan class="rv" x="-46.89">V</tspan><tspan class="ri" x="-29.18">I</tspan><tspan class="ri" x="-18.13">I</tspan><tspan class="ri" x="-7.98">I</tspan></text>
<line x1="359.20" y1="813.80" x2="359.20" y2="825.30" stroke-width="3.0"/>
<text class="xl" transform="translate(364.7,835.0) rotate(-90)"><tspan class="ri" x="-20.88">I</tspan><tspan class="rv" x="-10.29">X</tspan></text>
<line x1="393.40" y1="813.80" x2="393.40" y2="825.30" stroke-width="3.0"/>
<text class="xl" transform="translate(399.0,835.0) rotate(-90)"><tspan class="rv" x="-10.29">X</tspan></text>
<line x1="427.90" y1="813.80" x2="427.90" y2="825.30" stroke-width="3.0"/>
<text class="xl" transform="translate(433.5,835.0) rotate(-90)"><tspan class="rv" x="-21.19">X</tspan><tspan class="ri" x="-7.98">I</tspan></text>
<line x1="1012.00" y1="813.80" x2="1012.00" y2="825.30" stroke-width="3.0"/>
<text class="xl" transform="translate(1017.3,835.0) rotate(-90)"><tspan class="ri" x="-7.98">I</tspan></text>
<line x1="1046.10" y1="813.80" x2="1046.10" y2="825.30" stroke-width="3.0"/>
<text class="xl" transform="translate(1051.7,835.0) rotate(-90)"><tspan class="ri" x="-18.13">I</tspan><tspan class="ri" x="-7.98">I</tspan></text>
<line x1="1083.20" y1="813.80" x2="1083.20" y2="825.30" stroke-width="3.0"/>
<text class="xl" transform="translate(1088.8,835.0) rotate(-90)"><tspan class="ri" x="-29.18">I</tspan><tspan class="ri" x="-18.13">I</tspan><tspan class="ri" x="-7.98">I</tspan></text>
<line x1="1117.60" y1="813.80" x2="1117.60" y2="825.30" stroke-width="3.0"/>
<text class="xl" transform="translate(1123.2,835.0) rotate(-90)"><tspan class="ri" x="-26.18">I</tspan><tspan class="rv" x="-15.04">V</tspan></text>
<line x1="1151.70" y1="813.80" x2="1151.70" y2="825.30" stroke-width="3.0"/>
<text class="xl" transform="translate(1160.0,835.0) rotate(-90)"><tspan class="rv" x="-15.04">V</tspan></text>
<line x1="1188.80" y1="813.80" x2="1188.80" y2="825.30" stroke-width="3.0"/>
<text class="xl" transform="translate(1194.5,835.0) rotate(-90)"><tspan class="rv" x="-26.09">V</tspan><tspan class="ri" x="-7.98">I</tspan></text>
<line x1="1223.30" y1="813.80" x2="1223.30" y2="825.30" stroke-width="3.0"/>
<text class="xl" transform="translate(1229.0,835.0) rotate(-90)"><tspan class="rv" x="-37.19">V</tspan><tspan class="ri" x="-18.13">I</tspan><tspan class="ri" x="-7.98">I</tspan></text>
<line x1="1257.50" y1="813.80" x2="1257.50" y2="825.30" stroke-width="3.0"/>
<text class="xl" transform="translate(1266.2,835.0) rotate(-90)"><tspan class="rv" x="-46.89">V</tspan><tspan class="ri" x="-29.18">I</tspan><tspan class="ri" x="-18.13">I</tspan><tspan class="ri" x="-7.98">I</tspan></text>
<line x1="1294.50" y1="813.80" x2="1294.50" y2="825.30" stroke-width="3.0"/>
<text class="xl" transform="translate(1300.2,835.0) rotate(-90)"><tspan class="ri" x="-20.88">I</tspan><tspan class="rv" x="-10.29">X</tspan></text>
<line x1="1328.70" y1="813.80" x2="1328.70" y2="825.30" stroke-width="3.0"/>
<text class="xl" transform="translate(1334.6,835.0) rotate(-90)"><tspan class="rv" x="-10.29">X</tspan></text>
<line x1="1363.40" y1="813.80" x2="1363.40" y2="825.30" stroke-width="3.0"/>
<text class="xl" transform="translate(1371.5,835.0) rotate(-90)"><tspan class="rv" x="-21.19">X</tspan><tspan class="ri" x="-7.98">I</tspan></text>
<line x1="544.20" y1="137.10" x2="544.20" y2="125.20" stroke-width="3.0"/>
<text class="xl" transform="translate(549.5,122.9) rotate(-90)"><tspan class="ri" x="-1.18">I</tspan></text>
<line x1="578.80" y1="137.10" x2="578.80" y2="125.20" stroke-width="3.0"/>
<text class="xl" transform="translate(583.6,122.9) rotate(-90)"><tspan class="ri" x="-1.18">I</tspan><tspan class="ri" x="9.57">I</tspan></text>
<line x1="615.20" y1="137.10" x2="615.20" y2="125.20" stroke-width="3.0"/>
<text class="xl" transform="translate(620.8,122.9) rotate(-90)"><tspan class="ri" x="-1.18">I</tspan><tspan class="ri" x="9.42">I</tspan><tspan class="ri" x="19.72">I</tspan></text>
<line x1="649.80" y1="137.10" x2="649.80" y2="125.20" stroke-width="3.0"/>
<text class="xl" transform="translate(655.3,122.9) rotate(-90)"><tspan class="ri" x="-1.18">I</tspan><tspan class="rv" x="10.26">V</tspan></text>
<line x1="683.90" y1="137.10" x2="683.90" y2="125.20" stroke-width="3.0"/>
<text class="xl" transform="translate(689.7,122.9) rotate(-90)"><tspan class="rv" x="-1.09">V</tspan></text>
<line x1="721.10" y1="137.10" x2="721.10" y2="125.20" stroke-width="3.0"/>
<text class="xl" transform="translate(726.8,122.9) rotate(-90)"><tspan class="rv" x="-1.09">V</tspan><tspan class="ri" x="17.72">I</tspan></text>
<line x1="755.20" y1="137.10" x2="755.20" y2="125.20" stroke-width="3.0"/>
<text class="xl" transform="translate(760.9,122.9) rotate(-90)"><tspan class="rv" x="-1.09">V</tspan><tspan class="ri" x="17.72">I</tspan><tspan class="ri" x="28.02">I</tspan></text>
<line x1="789.70" y1="137.10" x2="789.70" y2="125.20" stroke-width="3.0"/>
<text class="xl" transform="translate(795.3,122.9) rotate(-90)"><tspan class="rv" x="-1.09">V</tspan><tspan class="ri" x="17.72">I</tspan><tspan class="ri" x="28.02">I</tspan><tspan class="ri" x="39.02">I</tspan></text>
<line x1="826.80" y1="137.10" x2="826.80" y2="125.20" stroke-width="3.0"/>
<text class="xl" transform="translate(832.4,122.9) rotate(-90)"><tspan class="ri" x="-1.18">I</tspan><tspan class="rv" x="9.56">X</tspan></text>
<line x1="861.20" y1="137.10" x2="861.20" y2="125.20" stroke-width="3.0"/>
<text class="xl" transform="translate(867.0,122.9) rotate(-90)"><tspan class="rv" x="-1.19">X</tspan></text>
<line x1="895.50" y1="137.10" x2="895.50" y2="125.20" stroke-width="3.0"/>
<text class="xl" transform="translate(901.1,122.9) rotate(-90)"><tspan class="rv" x="-1.19">X</tspan><tspan class="ri" x="11.72">I</tspan></text>
<text class="mod" x="720.4" y="908.6" text-anchor="middle" textLength="141" lengthAdjust="spacingAndGlyphs">Modules</text>
</svg>
</body>
</html>
